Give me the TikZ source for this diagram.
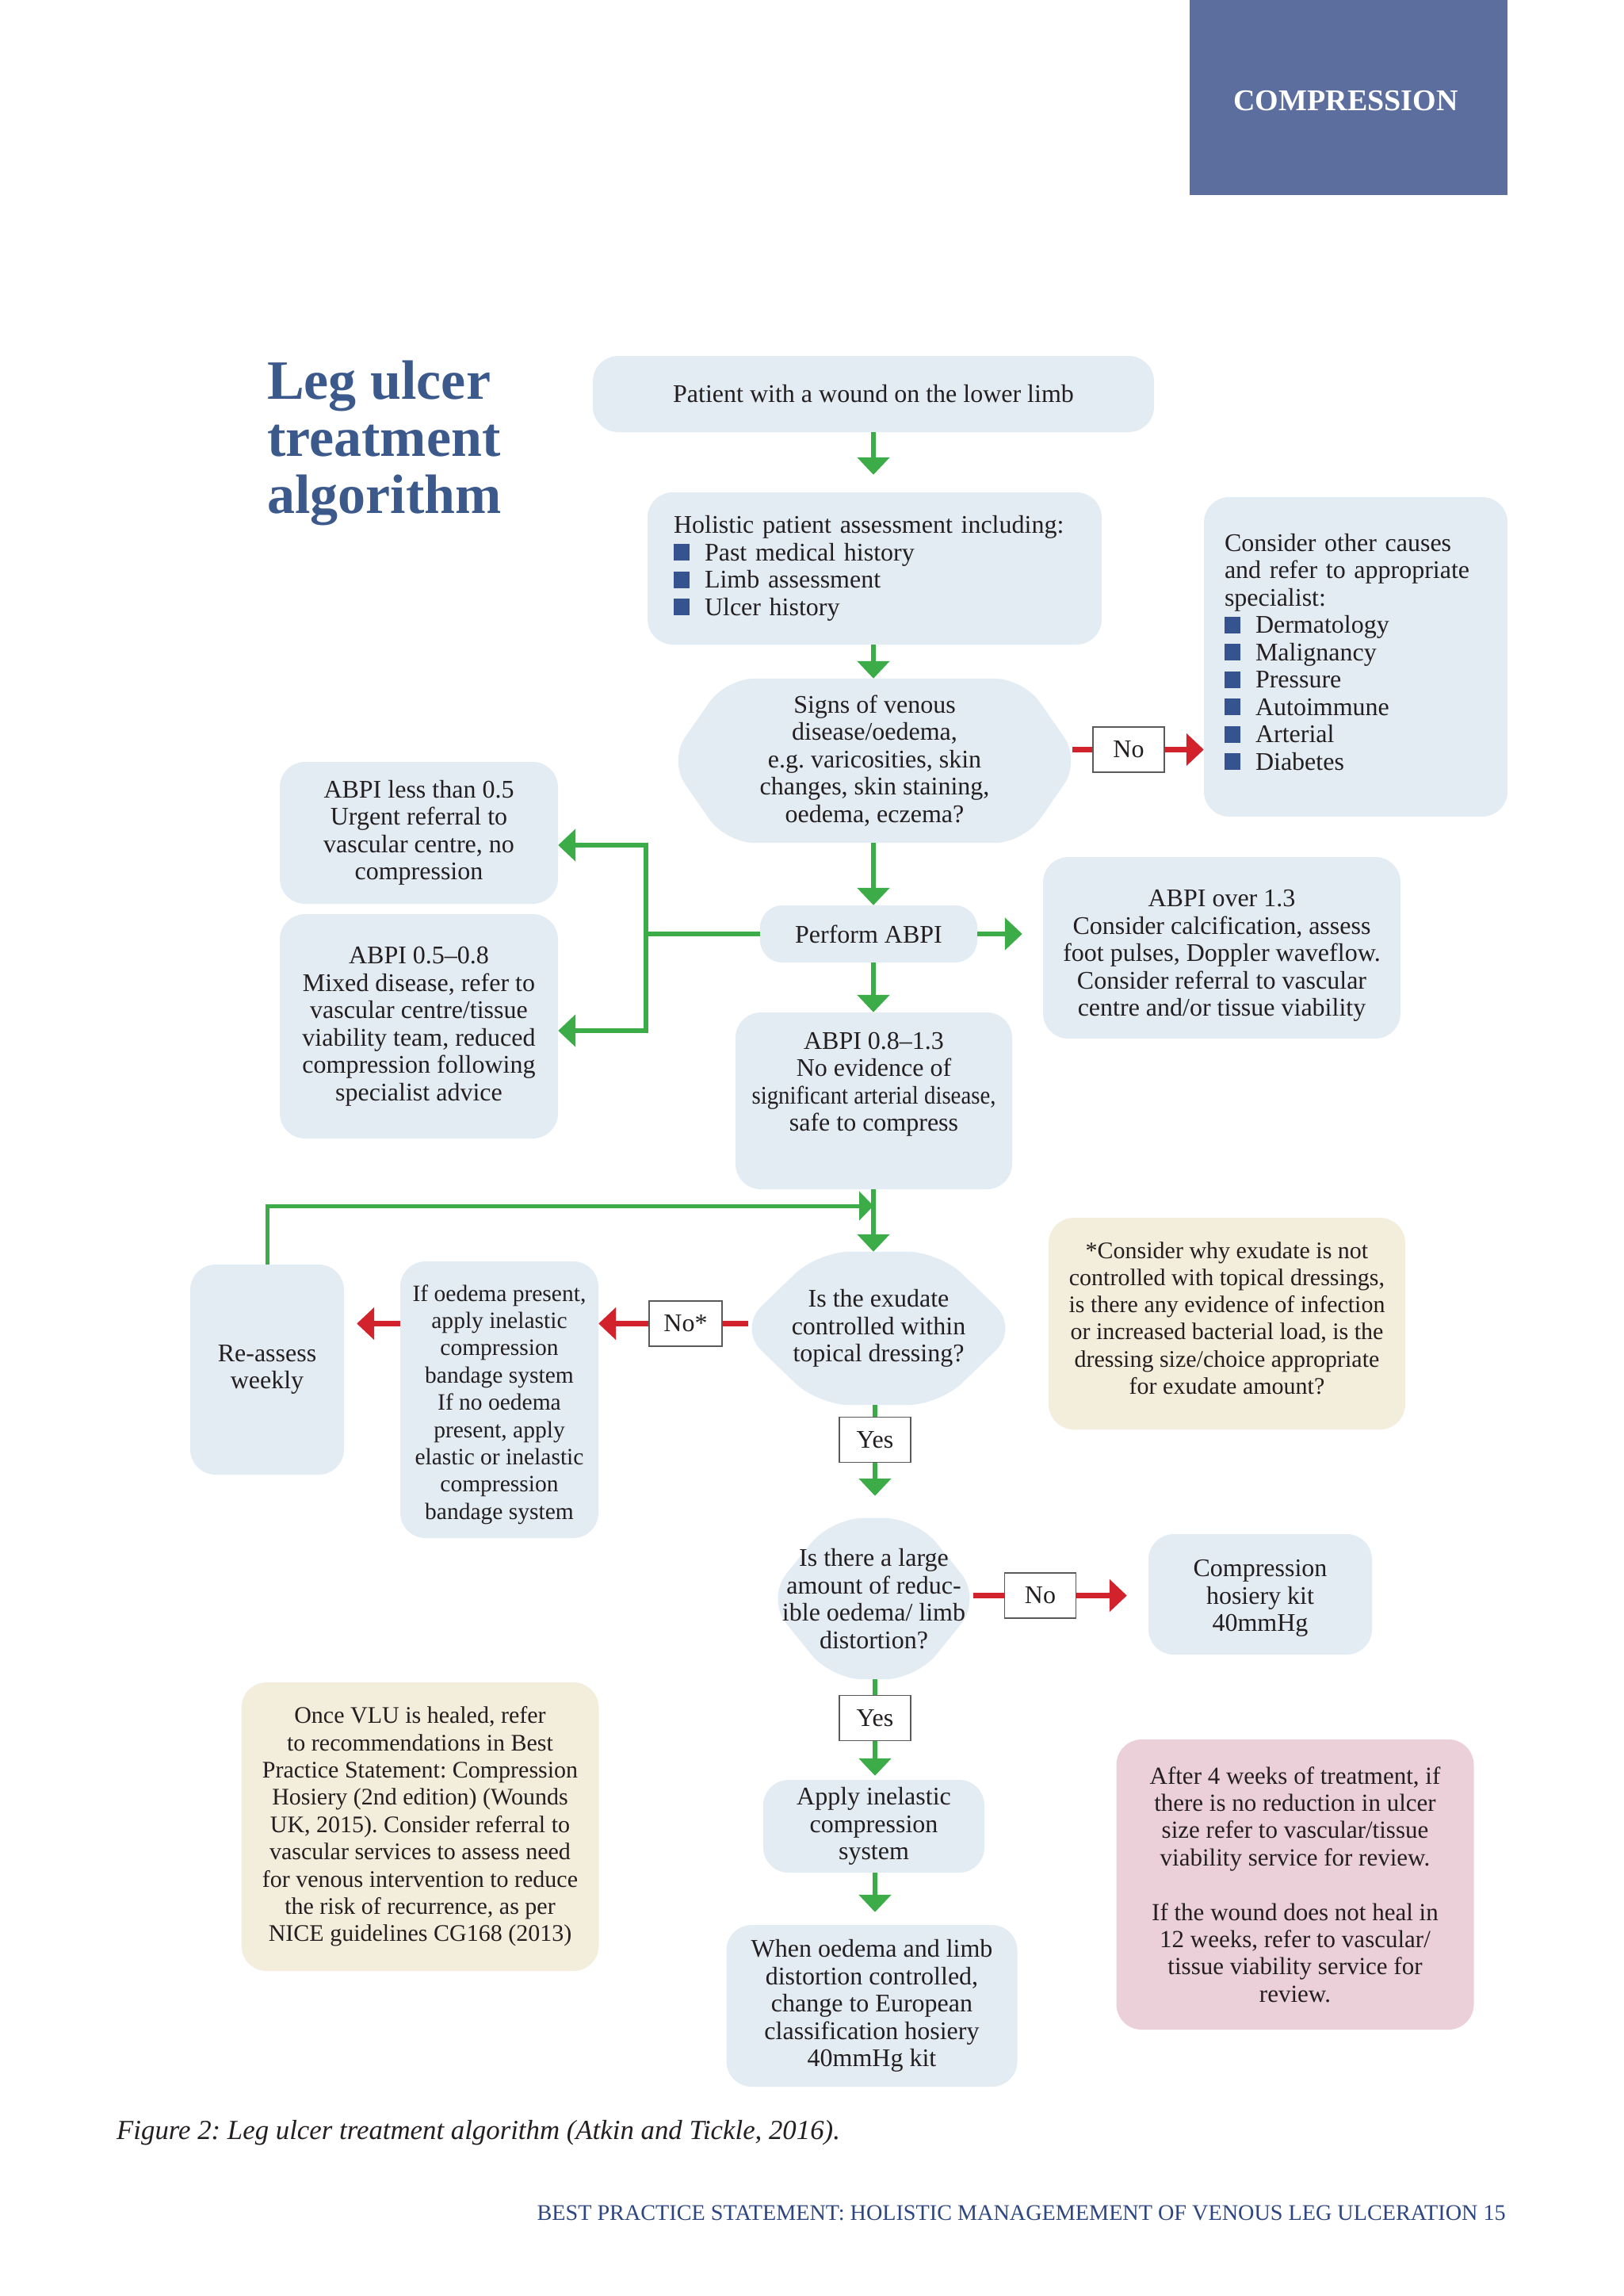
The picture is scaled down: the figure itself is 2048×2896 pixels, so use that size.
\documentclass[tikz,border=0pt]{standalone}
\usepackage{fontspec}
\usepackage{graphicx}
\setmainfont{Liberation Serif}
\usetikzlibrary{arrows.meta,calc,backgrounds}
\definecolor{boxblue}{RGB}{228,236,243}
\definecolor{beige}{RGB}{242,238,219}
\definecolor{pinkbox}{RGB}{236,208,217}
\definecolor{headblue}{RGB}{91,110,157}
\definecolor{titleblue}{RGB}{60,89,140}
\definecolor{bulletblue}{RGB}{53,83,142}
\definecolor{footblue}{RGB}{45,70,130}
\definecolor{textdark}{RGB}{35,31,32}
\definecolor{arrgreen}{RGB}{60,172,72}
\definecolor{arrred}{RGB}{210,35,45}
\definecolor{labgray}{RGB}{90,90,90}
\newcommand{\bsq}{{\color{bulletblue}\rule{20pt}{21pt}}\hspace{19pt}}
\newcommand{\bodyfont}{\fontsize{32}{34.5}\selectfont}
\frenchspacing
\tikzset{
  box/.style={fill=boxblue, rounded corners=32pt, align=center, inner sep=0pt, text=textdark, font=\bodyfont},
  hexbox/.style={align=center, inner sep=0pt, text=textdark, font=\bodyfont},
  lab/.style={draw=labgray, line width=1.5pt, fill=white, inner sep=0pt, minimum width=90pt, minimum height=57pt, font=\bodyfont, text=textdark},
  gline/.style={draw=arrgreen, line width=6.5pt},
  garrow/.style={gline, -{Triangle[length=22pt,width=40pt]}},
  rline/.style={draw=arrred, line width=6.5pt},
  rarrow/.style={rline, -{Triangle[length=22pt,width=40pt]}},
  plaintext/.style={inner sep=0pt, text=textdark, align=center, font=\bodyfont}
}
\begin{document}
\begin{tikzpicture}[x=1pt,y=-1pt]
\useasboundingbox (0,0) rectangle (2048,2896);
\begin{scope}[on background layer]
\fill[white] (0,0) rectangle (2048,2896);
\end{scope}

% header and title
\node[fill=headblue, minimum width=401pt, minimum height=246pt, inner sep=0pt] (header) at (1701.5,123) {};
\node[inner sep=0pt, text=white, font=\fontsize{38}{40}\selectfont\bfseries] (headertext) at (1698,127) {COMPRESSION};
\node[anchor=base west, inner sep=0pt, text=titleblue, font=\fontsize{70}{72}\selectfont\bfseries] (t1) at (337,503) {Leg ulcer};
\node[anchor=base west, inner sep=0pt, text=titleblue, font=\fontsize{70}{72}\selectfont\bfseries] (t2) at (337,575) {treatment};
\node[anchor=base west, inner sep=0pt, text=titleblue, font=\fontsize{70}{72}\selectfont\bfseries] (t3) at (337,647) {algorithm};

% boxes
\node[box, minimum width=708pt, minimum height=96pt] (patient) at (1102,497) {Patient with a wound on the lower limb};
\node[box, minimum width=573pt, minimum height=192pt, text width=507pt, align=left] (holistic) at (1103.5,717) {Holistic patient assessment including:\\ \bsq Past medical history\\ \bsq Limb assessment\\ \bsq Ulcer history};
\node[hexbox, minimum width=499pt, minimum height=207pt] (hex1) at (1103.5,959.5) {Signs of venous\\disease/oedema,\\e.g. varicosities, skin\\changes, skin staining,\\oedema, eczema?};
\node[box, minimum width=383pt, minimum height=403pt] (consider) at (1710.5,828.5) {};
\node[plaintext, text width=331pt, align=left] (considert) at (1710.5,822.5) {Consider other causes\\and refer to appropriate\\specialist:\\ \bsq Dermatology\\ \bsq Malignancy\\ \bsq Pressure\\ \bsq Autoimmune\\ \bsq Arterial\\ \bsq Diabetes};
\node[lab] (no1) at (1424,945.5) {No};
\node[box, minimum width=351pt, minimum height=179pt] (abpi05) at (528.5,1050.5) {ABPI less than 0.5\\Urgent referral to\\vascular centre, no\\compression};
\node[box, minimum width=351pt, minimum height=283pt] (abpi058) at (528.5,1294.5) {ABPI 0.5–0.8\\Mixed disease, refer to\\vascular centre/tissue\\viability team, reduced\\compression following\\specialist advice};
\node[box, minimum width=274pt, minimum height=72pt, rounded corners=28pt] (perform) at (1096,1178) {Perform ABPI};
\node[box, minimum width=451pt, minimum height=229pt] (abpi13) at (1541.5,1195.5) {};
\node[plaintext] (abpi13t) at (1541.5,1205.5) {ABPI over 1.3\\Consider calcification, assess\\foot pulses, Doppler waveflow.\\Consider referral to vascular\\centre and/or tissue viability};
\node[box, minimum width=349pt, minimum height=223pt] (abpi0813) at (1102.5,1388.5) {};
\node[plaintext] (abpi0813t) at (1102.5,1367.5) {ABPI 0.8–1.3\\No evidence of\\\scalebox{0.9}[1]{significant arterial disease,}\\safe to compress};

\node[hexbox, minimum width=329pt, minimum height=193pt] (hex2) at (1108.5,1675.5) {Is the exudate\\controlled within\\topical dressing?};
\node[lab, minimum width=92pt] (nostar) at (865,1669.5) {No*};
\node[box, minimum width=250pt, minimum height=349pt] (oedema) at (630,1765.5) {};
\node[plaintext, font=\fontsize{29.5}{34.4}\selectfont] (oedemat) at (630,1771.5) {If oedema present,\\apply inelastic\\compression\\bandage system\\If no oedema\\present, apply\\elastic or inelastic\\compression\\bandage system};
\node[box, minimum width=194pt, minimum height=265pt] (reassess) at (337,1727.5) {Re-assess\\weekly};
\node[box, fill=beige, minimum width=450pt, minimum height=267pt] (exudnote) at (1548,1669.5) {};
\node[plaintext, font=\fontsize{30}{34.2}\selectfont] (exudnotet) at (1548,1662.5) {*Consider why exudate is not\\controlled with topical dressings,\\is there any evidence of infection\\or increased bacterial load, is the\\dressing size/choice appropriate\\for exudate amount?};
\node[lab] (yes1) at (1104,1816) {Yes};
\node[hexbox, minimum width=251pt, minimum height=203pt] (hex3) at (1102.5,2016.5) {Is there a large\\amount of reduc-\\ible oedema/ limb\\distortion?};
\node[lab] (no2) at (1312.5,2012.5) {No};
\node[box, minimum width=282pt, minimum height=152pt] (hosiery) at (1590,2011) {};
\node[plaintext] (hosieryt) at (1590,2016) {Compression\\hosiery kit\\40mmHg};
\node[lab] (yes2) at (1104,2167) {Yes};
\node[box, minimum width=279pt, minimum height=117pt] (apply) at (1102.5,2303.5) {Apply inelastic\\compression\\system};
\node[box, minimum width=367pt, minimum height=204pt] (when) at (1100,2530) {When oedema and limb\\distortion controlled,\\change to European\\classification hosiery\\40mmHg kit};
\node[box, fill=beige, minimum width=451pt, minimum height=364pt, font=\fontsize{30}{34.4}\selectfont] (vlu) at (530,2304) {Once VLU is healed, refer\\to recommendations in Best\\Practice Statement: Compression\\Hosiery (2nd edition) (Wounds\\UK, 2015). Consider referral to\\vascular services to assess need\\for venous intervention to reduce\\the risk of recurrence, as per\\NICE guidelines CG168 (2013)};
\node[box, fill=pinkbox, minimum width=451pt, minimum height=366pt, font=\fontsize{31}{34.4}\selectfont] (pink) at (1634,2377) {After 4 weeks of treatment, if\\there is no reduction in ulcer\\size refer to vascular/tissue\\viability service for review.\\[34.4pt]If the wound does not heal in\\12 weeks, refer to vascular/\\tissue viability service for\\review.};

% hexagon fills
\begin{scope}[on background layer]
\fill[boxblue, rounded corners=36pt] (hex1.north) -- ([xshift=-62pt]hex1.north east) -- ([xshift=10pt]hex1.east) -- ([xshift=-62pt]hex1.south east) -- ([xshift=62pt]hex1.south west) -- ([xshift=-10pt]hex1.west) -- ([xshift=62pt]hex1.north west) -- cycle;
\fill[boxblue, rounded corners=40pt] (hex2.north) -- ([xshift=-88pt]hex2.north east) -- ([xshift=12pt]hex2.east) -- ([xshift=-88pt]hex2.south east) -- ([xshift=88pt]hex2.south west) -- ([xshift=-12pt]hex2.west) -- ([xshift=88pt]hex2.north west) -- cycle;
\fill[boxblue, rounded corners=40pt] (hex3.north) -- ([xshift=-72pt]hex3.north east) -- ([xshift=10pt]hex3.east) -- ([xshift=-72pt]hex3.south east) -- ([xshift=72pt]hex3.south west) -- ([xshift=-10pt]hex3.west) -- ([xshift=72pt]hex3.north west) -- cycle;
\end{scope}

% connectors
\draw[garrow] (patient.south) -- ($(patient.south |- holistic.north)+(0,-22)$);
\draw[garrow] (patient.south |- holistic.south) -- (patient.south |- hex1.north);
\draw[rline] (hex1.east |- no1.west) -- (no1.west);
\draw[rarrow] (no1.east) -- (no1.east -| consider.west);
\draw[garrow] (patient.south |- hex1.south) -- (patient.south |- perform.north);
\coordinate (jtop) at (815,1066);
\coordinate (jbot) at (815,1300);
\draw[garrow] (perform.west) -| (jtop) -- (jtop -| abpi05.east);
\draw[garrow] (perform.west) -| (jbot) -- (jbot -| abpi058.east);
\draw[garrow] (perform.east) -- ($(perform.east -| abpi13.west)+(-26,0)$);
\draw[garrow] (patient.south |- perform.south) -- (patient.south |- abpi0813.north);
\draw[garrow] (patient.south |- abpi0813.south) -- (patient.south |- hex2.north);
\coordinate (fb) at (1102,1521);
\draw[draw=arrgreen, line width=5pt, -{Triangle[length=18pt,width=36pt]}] (reassess.north) |- (fb);
\draw[rline] (hex2.west |- nostar.east) -- (nostar.east);
\draw[rarrow] (nostar.west) -- (nostar.west -| oedema.east);
\draw[rarrow] (oedema.west |- nostar.west) -- ($(reassess.east |- nostar.west)+(16,0)$);
\draw[gline] (yes1.north |- hex2.south) -- (yes1.north);
\draw[garrow] (yes1.south) -- ($(yes1.south |- hex3.north)+(0,-28)$);
\draw[rline] (hex3.east |- no2.west) -- (no2.west);
\draw[rarrow] (no2.east) -- ($(no2.east -| hosiery.west)+(-27,0)$);
\draw[gline] (yes2.north |- hex3.south) -- (yes2.north);
\draw[garrow] (yes2.south) -- ($(yes2.south |- apply.north)+(0,-5)$);
\draw[garrow] (yes2.south |- apply.south) -- ($(yes2.south |- when.north)+(0,-16)$);

% caption and footer
\node[anchor=base west, inner sep=0pt, text=textdark, font=\fontsize{34.8}{37}\selectfont\itshape] (caption) at (147,2698) {Figure 2: Leg ulcer treatment algorithm (Atkin and Tickle, 2016).};
\node[anchor=base east, inner sep=0pt, text=footblue, font=\fontsize{28.2}{30}\selectfont] (footer) at (1900,2800) {BEST PRACTICE STATEMENT: HOLISTIC MANAGEMEMENT OF VENOUS LEG ULCERATION 15};
\end{tikzpicture}
\end{document}
